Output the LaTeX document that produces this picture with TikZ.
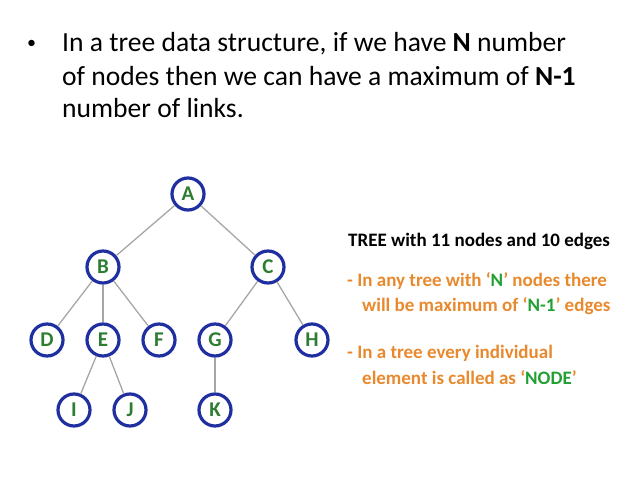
\documentclass[tikz,border=0pt]{standalone}
\usepackage{fontspec}
\setmainfont{Carlito}
\definecolor{nb}{HTML}{1F2FA0}
\definecolor{ng}{HTML}{2E7D32}
\definecolor{og}{HTML}{E8892E}
\definecolor{gg}{HTML}{22A033}
\begin{document}
\begin{tikzpicture}[x=1pt,y=-1pt,
  tn/.style={circle,draw=nb,line width=3.2pt,fill=white,minimum size=32pt,inner sep=0pt,font=\fontsize{21}{21}\selectfont\bfseries,text=ng},
  ed/.style={draw=gray!70,line width=1.3pt},
  tt/.style={anchor=west,inner sep=0pt,font=\fontsize{27.6}{27.6}\selectfont},
  rt/.style={anchor=west,font=\fontsize{19}{19}\selectfont\bfseries,inner sep=0pt}]
\useasboundingbox (0,0) rectangle (638,478);
\node[anchor=west,inner sep=0pt,font=\fontsize{18}{18}\selectfont] (b1) at (27,44) {•};
\node[tt] (l1) at (62,44) {In a tree data structure, if we have \textbf{N} number};
\node[tt] (l2) at (62,76) {of nodes then we can have a maximum of \textbf{N-1}};
\node[tt] (l3) at (62,108) {number of links.};
\node[tn] (A) at (188,194) {A};
\node[tn] (B) at (103,267) {B};
\node[tn] (C) at (268,267) {C};
\node[tn] (D) at (47,340) {D};
\node[tn] (E) at (103,340) {E};
\node[tn] (F) at (159,340) {F};
\node[tn] (G) at (215,340) {G};
\node[tn] (H) at (312,340) {H};
\node[tn] (I) at (74,410) {I};
\node[tn] (J) at (130,410) {J};
\node[tn] (K) at (215,410) {K};
\foreach \a/\b in {A/B,A/C,B/D,B/E,B/F,C/G,C/H,E/I,E/J,G/K} \draw[ed] (\a) -- (\b);
\node[rt] (t0) at (348,241) {TREE with 11 nodes and 10 edges};
\node[rt,text=og] (t1) at (347,281) {-\ In any tree with ‘\textcolor{gg}{N}’ nodes there};
\node[rt,text=og] (t2) at (362,306) {will be maximum of ‘\textcolor{gg}{N-1}’ edges};
\node[rt,text=og] (t3) at (347,353) {-\ In a tree every individual};
\node[rt,text=og] (t4) at (362,378) {element is called as ‘\textcolor{gg}{NODE}’};
\end{tikzpicture}
\end{document}
